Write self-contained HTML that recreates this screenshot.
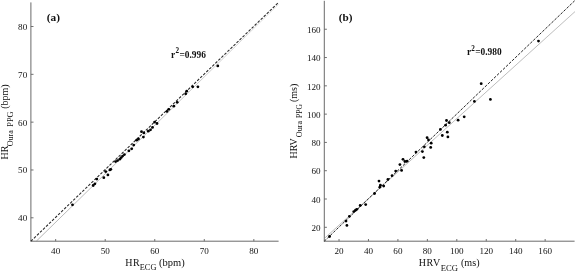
<!DOCTYPE html>
<html><head><meta charset="utf-8"><title>Figure</title>
<style>
html,body{margin:0;padding:0;background:#fff;}
body{width:575px;height:271px;overflow:hidden;}
svg{display:block;font-family:"Liberation Serif",serif;fill:#111;}
</style></head><body>
<svg width="575" height="271" viewBox="0 0 575 271">
<rect width="575" height="271" fill="#fff"/>
<line x1="30.9" y1="2.4" x2="30.9" y2="241.2" stroke="#626262" stroke-width="0.95"/>
<line x1="30.4" y1="241.2" x2="278.6" y2="241.2" stroke="#626262" stroke-width="0.95"/>
<line x1="55.67" y1="241.2" x2="55.67" y2="239.0" stroke="#626262" stroke-width="0.9"/>
<text x="55.67" y="253.60" text-anchor="middle" font-size="9.1">40</text>
<line x1="105.21" y1="241.2" x2="105.21" y2="239.0" stroke="#626262" stroke-width="0.9"/>
<text x="105.21" y="253.60" text-anchor="middle" font-size="9.1">50</text>
<line x1="154.75" y1="241.2" x2="154.75" y2="239.0" stroke="#626262" stroke-width="0.9"/>
<text x="154.75" y="253.60" text-anchor="middle" font-size="9.1">60</text>
<line x1="204.29" y1="241.2" x2="204.29" y2="239.0" stroke="#626262" stroke-width="0.9"/>
<text x="204.29" y="253.60" text-anchor="middle" font-size="9.1">70</text>
<line x1="253.83" y1="241.2" x2="253.83" y2="239.0" stroke="#626262" stroke-width="0.9"/>
<text x="253.83" y="253.60" text-anchor="middle" font-size="9.1">80</text>
<line x1="30.9" y1="217.79" x2="33.5" y2="217.79" stroke="#626262" stroke-width="0.9"/>
<text x="27.20" y="221.24" text-anchor="end" font-size="9.1">40</text>
<line x1="30.9" y1="169.97" x2="33.5" y2="169.97" stroke="#626262" stroke-width="0.9"/>
<text x="27.20" y="173.42" text-anchor="end" font-size="9.1">50</text>
<line x1="30.9" y1="122.15" x2="33.5" y2="122.15" stroke="#626262" stroke-width="0.9"/>
<text x="27.20" y="125.60" text-anchor="end" font-size="9.1">60</text>
<line x1="30.9" y1="74.33" x2="33.5" y2="74.33" stroke="#626262" stroke-width="0.9"/>
<text x="27.20" y="77.78" text-anchor="end" font-size="9.1">70</text>
<line x1="30.9" y1="26.51" x2="33.5" y2="26.51" stroke="#626262" stroke-width="0.9"/>
<text x="27.20" y="29.96" text-anchor="end" font-size="9.1">80</text>
<line x1="324.3" y1="0.8" x2="324.3" y2="241.2" stroke="#626262" stroke-width="0.95"/>
<line x1="323.8" y1="241.2" x2="574.6" y2="241.2" stroke="#626262" stroke-width="0.95"/>
<line x1="339.02" y1="241.2" x2="339.02" y2="239.0" stroke="#626262" stroke-width="0.9"/>
<text x="339.02" y="253.60" text-anchor="middle" font-size="9.1">20</text>
<line x1="368.47" y1="241.2" x2="368.47" y2="239.0" stroke="#626262" stroke-width="0.9"/>
<text x="368.47" y="253.60" text-anchor="middle" font-size="9.1">40</text>
<line x1="397.92" y1="241.2" x2="397.92" y2="239.0" stroke="#626262" stroke-width="0.9"/>
<text x="397.92" y="253.60" text-anchor="middle" font-size="9.1">60</text>
<line x1="427.36" y1="241.2" x2="427.36" y2="239.0" stroke="#626262" stroke-width="0.9"/>
<text x="427.36" y="253.60" text-anchor="middle" font-size="9.1">80</text>
<line x1="456.81" y1="241.2" x2="456.81" y2="239.0" stroke="#626262" stroke-width="0.9"/>
<text x="456.81" y="253.60" text-anchor="middle" font-size="9.1">100</text>
<line x1="486.26" y1="241.2" x2="486.26" y2="239.0" stroke="#626262" stroke-width="0.9"/>
<text x="486.26" y="253.60" text-anchor="middle" font-size="9.1">120</text>
<line x1="515.71" y1="241.2" x2="515.71" y2="239.0" stroke="#626262" stroke-width="0.9"/>
<text x="515.71" y="253.60" text-anchor="middle" font-size="9.1">140</text>
<line x1="545.15" y1="241.2" x2="545.15" y2="239.0" stroke="#626262" stroke-width="0.9"/>
<text x="545.15" y="253.60" text-anchor="middle" font-size="9.1">160</text>
<line x1="324.3" y1="227.30" x2="326.90000000000003" y2="227.30" stroke="#626262" stroke-width="0.9"/>
<text x="320.60" y="231.00" text-anchor="end" font-size="9.1">20</text>
<line x1="324.3" y1="199.01" x2="326.90000000000003" y2="199.01" stroke="#626262" stroke-width="0.9"/>
<text x="320.60" y="202.71" text-anchor="end" font-size="9.1">40</text>
<line x1="324.3" y1="170.71" x2="326.90000000000003" y2="170.71" stroke="#626262" stroke-width="0.9"/>
<text x="320.60" y="174.41" text-anchor="end" font-size="9.1">60</text>
<line x1="324.3" y1="142.42" x2="326.90000000000003" y2="142.42" stroke="#626262" stroke-width="0.9"/>
<text x="320.60" y="146.12" text-anchor="end" font-size="9.1">80</text>
<line x1="324.3" y1="114.13" x2="326.90000000000003" y2="114.13" stroke="#626262" stroke-width="0.9"/>
<text x="320.60" y="117.83" text-anchor="end" font-size="9.1">100</text>
<line x1="324.3" y1="85.83" x2="326.90000000000003" y2="85.83" stroke="#626262" stroke-width="0.9"/>
<text x="320.60" y="89.53" text-anchor="end" font-size="9.1">120</text>
<line x1="324.3" y1="57.54" x2="326.90000000000003" y2="57.54" stroke="#626262" stroke-width="0.9"/>
<text x="320.60" y="61.24" text-anchor="end" font-size="9.1">140</text>
<line x1="324.3" y1="29.24" x2="326.90000000000003" y2="29.24" stroke="#626262" stroke-width="0.9"/>
<text x="320.60" y="32.94" text-anchor="end" font-size="9.1">160</text>
<defs><linearGradient id="lg" gradientUnits="userSpaceOnUse" x1="36" y1="241" x2="279" y2="4"><stop offset="0" stop-color="#858585"/><stop offset="0.5" stop-color="#9a9a9a"/><stop offset="1" stop-color="#d0d0d0"/></linearGradient></defs><line x1="36.3" y1="241.2" x2="278.9" y2="3.9" stroke="url(#lg)" stroke-width="0.6"/>
<line x1="30.9" y1="241.2" x2="278.6" y2="2.4" stroke="#2a2a2a" stroke-width="1.08" stroke-dasharray="2.7 1.5"/>
<line x1="324.3" y1="238.5" x2="575" y2="11.6" stroke="#909090" stroke-width="0.6"/>
<line x1="324.3" y1="241.2" x2="574.6" y2="0.8" stroke="#262626" stroke-width="1.0" stroke-dasharray="2.8 1.4"/>
<circle cx="72.5" cy="204.8" r="1.4" fill="#000"/>
<circle cx="93.2" cy="185.5" r="1.4" fill="#000"/>
<circle cx="94.9" cy="183.8" r="1.4" fill="#000"/>
<circle cx="96.8" cy="179.1" r="1.4" fill="#000"/>
<circle cx="103.8" cy="177.7" r="1.4" fill="#000"/>
<circle cx="107.9" cy="174.9" r="1.4" fill="#000"/>
<circle cx="105.7" cy="171.6" r="1.4" fill="#000"/>
<circle cx="109.9" cy="169.9" r="1.4" fill="#000"/>
<circle cx="110.8" cy="169.3" r="1.4" fill="#000"/>
<circle cx="115.6" cy="161.6" r="1.4" fill="#000"/>
<circle cx="117.6" cy="160.6" r="1.4" fill="#000"/>
<circle cx="119.8" cy="159.2" r="1.4" fill="#000"/>
<circle cx="121.2" cy="157.6" r="1.4" fill="#000"/>
<circle cx="122.6" cy="156.1" r="1.4" fill="#000"/>
<circle cx="124.4" cy="154.6" r="1.4" fill="#000"/>
<circle cx="128.9" cy="150.8" r="1.4" fill="#000"/>
<circle cx="131.7" cy="148.8" r="1.4" fill="#000"/>
<circle cx="133.7" cy="145.1" r="1.4" fill="#000"/>
<circle cx="136.6" cy="140.2" r="1.4" fill="#000"/>
<circle cx="138.5" cy="139" r="1.4" fill="#000"/>
<circle cx="143.4" cy="137.1" r="1.4" fill="#000"/>
<circle cx="141.5" cy="131.7" r="1.4" fill="#000"/>
<circle cx="143.9" cy="132.9" r="1.4" fill="#000"/>
<circle cx="148.3" cy="131.2" r="1.4" fill="#000"/>
<circle cx="150.5" cy="129.8" r="1.4" fill="#000"/>
<circle cx="152.5" cy="127.4" r="1.4" fill="#000"/>
<circle cx="154.6" cy="122.1" r="1.4" fill="#000"/>
<circle cx="157.0" cy="123.5" r="1.4" fill="#000"/>
<circle cx="167.0" cy="111.4" r="1.4" fill="#000"/>
<circle cx="168.9" cy="109.3" r="1.4" fill="#000"/>
<circle cx="173.8" cy="106.2" r="1.4" fill="#000"/>
<circle cx="177.2" cy="102.3" r="1.4" fill="#000"/>
<circle cx="185.7" cy="93.8" r="1.4" fill="#000"/>
<circle cx="186.7" cy="91.2" r="1.4" fill="#000"/>
<circle cx="192.7" cy="86.8" r="1.4" fill="#000"/>
<circle cx="197.9" cy="86.8" r="1.4" fill="#000"/>
<circle cx="217.8" cy="65.9" r="1.4" fill="#000"/>
<circle cx="329.6" cy="236.5" r="1.4" fill="#000"/>
<circle cx="346.9" cy="225.4" r="1.4" fill="#000"/>
<circle cx="346.0" cy="221.1" r="1.4" fill="#000"/>
<circle cx="349.4" cy="216.3" r="1.4" fill="#000"/>
<circle cx="353.8" cy="211.6" r="1.4" fill="#000"/>
<circle cx="355.5" cy="210.2" r="1.4" fill="#000"/>
<circle cx="356.8" cy="209.3" r="1.4" fill="#000"/>
<circle cx="360.2" cy="205.5" r="1.4" fill="#000"/>
<circle cx="365.7" cy="204.6" r="1.4" fill="#000"/>
<circle cx="374.6" cy="193.5" r="1.4" fill="#000"/>
<circle cx="379" cy="181.1" r="1.4" fill="#000"/>
<circle cx="380.4" cy="185.2" r="1.4" fill="#000"/>
<circle cx="379.8" cy="187.2" r="1.4" fill="#000"/>
<circle cx="383.7" cy="186.1" r="1.4" fill="#000"/>
<circle cx="387.9" cy="179.5" r="1.4" fill="#000"/>
<circle cx="392.1" cy="175.6" r="1.4" fill="#000"/>
<circle cx="395.7" cy="171.1" r="1.4" fill="#000"/>
<circle cx="401.6" cy="170.4" r="1.4" fill="#000"/>
<circle cx="399.9" cy="164.6" r="1.4" fill="#000"/>
<circle cx="403" cy="159.3" r="1.4" fill="#000"/>
<circle cx="404.9" cy="161.5" r="1.4" fill="#000"/>
<circle cx="407.1" cy="161.2" r="1.4" fill="#000"/>
<circle cx="416" cy="152.1" r="1.4" fill="#000"/>
<circle cx="423.8" cy="157.6" r="1.4" fill="#000"/>
<circle cx="422.4" cy="151.6" r="1.4" fill="#000"/>
<circle cx="424.3" cy="146.8" r="1.4" fill="#000"/>
<circle cx="430.7" cy="147.4" r="1.4" fill="#000"/>
<circle cx="431.2" cy="143.2" r="1.4" fill="#000"/>
<circle cx="427.1" cy="137.7" r="1.4" fill="#000"/>
<circle cx="428.5" cy="139.9" r="1.4" fill="#000"/>
<circle cx="440.4" cy="129.4" r="1.4" fill="#000"/>
<circle cx="442.3" cy="135.5" r="1.4" fill="#000"/>
<circle cx="447.9" cy="136.9" r="1.4" fill="#000"/>
<circle cx="447.3" cy="132.2" r="1.4" fill="#000"/>
<circle cx="445.6" cy="125.2" r="1.4" fill="#000"/>
<circle cx="446.5" cy="120.5" r="1.4" fill="#000"/>
<circle cx="449.3" cy="122.7" r="1.4" fill="#000"/>
<circle cx="458.1" cy="120.2" r="1.4" fill="#000"/>
<circle cx="464.2" cy="116.8" r="1.4" fill="#000"/>
<circle cx="474.4" cy="101.4" r="1.4" fill="#000"/>
<circle cx="481.2" cy="83.7" r="1.4" fill="#000"/>
<circle cx="490.4" cy="99.4" r="1.4" fill="#000"/>
<circle cx="538.5" cy="41.1" r="1.4" fill="#000"/>
<text x="46.8" y="21.0" font-size="11.3" font-weight="bold">(a)</text>
<text x="338.8" y="20.9" font-size="11.2" font-weight="bold">(b)</text>
<text y="57.7" font-size="9.4" font-weight="bold"><tspan x="171.1">r</tspan><tspan x="175.4" dy="-4.5" font-size="7.2">2</tspan><tspan x="179.4" dy="4.5">=0.996</tspan></text>
<text y="55.3" font-size="9.4" font-weight="bold"><tspan x="466.9">r</tspan><tspan x="471.2" dy="-4.5" font-size="7.2">2</tspan><tspan x="475.2" dy="4.5">=0.980</tspan></text>
<text y="266.0" font-size="10"><tspan x="125.3" letter-spacing="0.4">HR</tspan><tspan x="139.8" dy="4.2" font-size="8.3">ECG</tspan><tspan x="159.1" dy="-4.2" font-size="10.5">(bpm)</tspan></text>
<text y="266.0" font-size="10"><tspan x="418.8" letter-spacing="0.6">HRV</tspan><tspan x="440.7" dy="4.9" font-size="8.6">ECG</tspan><tspan x="461.0" dy="-4.9" font-size="10.1">(ms)</tspan></text>
<text transform="translate(7.6,0) rotate(-90)" y="0" font-size="10"><tspan x="-159.6">HR</tspan><tspan x="-146.3" dy="5.0" font-size="8.0">Oura </tspan><tspan x="-126.7" font-size="8.3">PPG</tspan><tspan x="-108.8" dy="-5.0">(bpm)</tspan></text>
<text transform="translate(297.3,0) rotate(-90)" y="0" font-size="10"><tspan x="-158.5">HRV</tspan><tspan x="-137.2" dy="5.0" font-size="8.1">Oura </tspan><tspan x="-117.9" font-size="7.6">PPG</tspan><tspan x="-102.0" dy="-5.0">(ms)</tspan></text>
</svg>
</body></html>
